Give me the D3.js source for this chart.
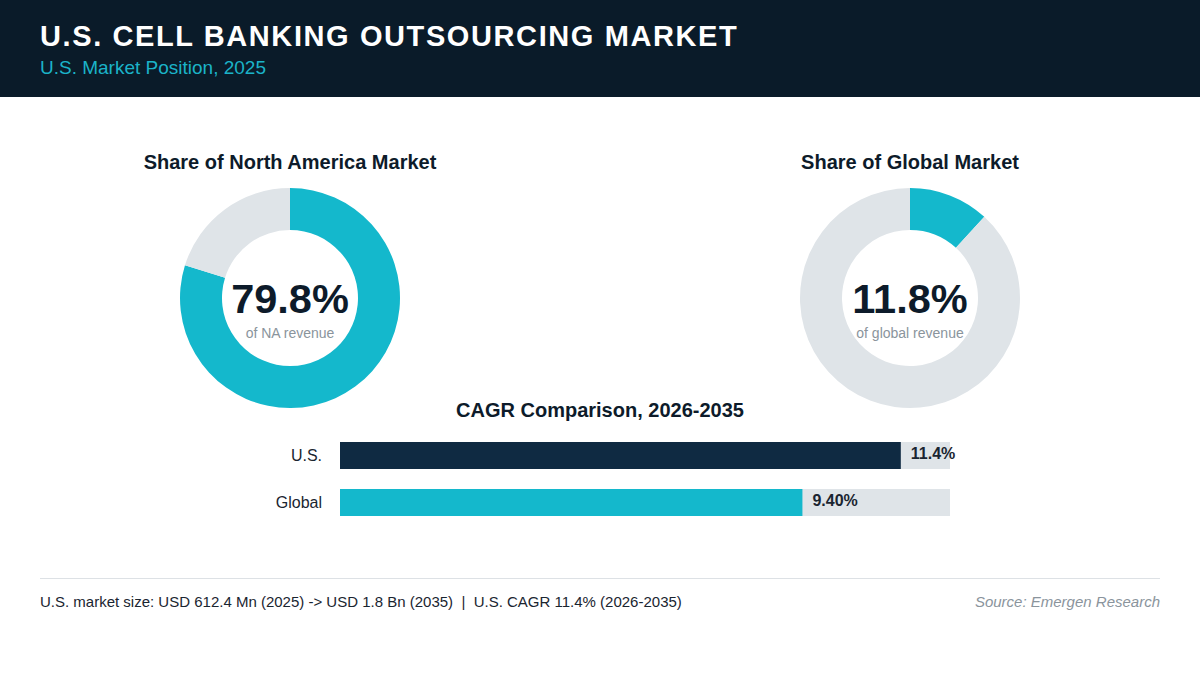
<!DOCTYPE html>
<html>
<head>
<meta charset="utf-8">
<script src="https://cdn.jsdelivr.net/npm/d3@7"></script>
<style>
  body { margin: 0; background: #fff; }
  svg { display: block; font-family: "Liberation Sans", Arial, sans-serif; }
</style>
</head>
<body>
<div id="chart"></div>
<script>
// values
const donutTitles = ['Share of North America Market', 'Share of Global Market'];
const donutShares = [79.8, 11.8];
const donutCaptions = ['of NA revenue', 'of global revenue'];

const barRegions = ['U.S.', 'Global'];
const barCagr = [11.4, 9.4];
const barLabels = ['11.4%', '9.40%'];

const teal = '#14b8cc';
const track = '#dfe4e8';
const navy = '#0f2a42';

const width = 1200, height = 675;

const svg = d3.select('#chart').append('svg')
    .attr('width', width)
    .attr('height', height);

// header
svg.append('rect')
    .attr('width', width)
    .attr('height', 97)
    .attr('fill', '#0a1b29');

svg.append('text')
    .attr('x', 40).attr('y', 46)
    .attr('fill', '#fff')
    .attr('font-size', 29)
    .attr('font-weight', 'bold')
    .attr('letter-spacing', 1.6)
    .text('U.S. CELL BANKING OUTSOURCING MARKET');

svg.append('text')
    .attr('x', 40).attr('y', 74)
    .attr('fill', '#1bb3c8')
    .attr('font-size', 19)
    .text('U.S. Market Position, 2025');

// donuts
const centers = d3.scalePoint().domain(d3.range(donutShares.length)).range([290, 910]);
const arc = d3.arc().innerRadius(68).outerRadius(110);
const pie = d3.pie().sort(null).value(d => d.v);

donutShares.forEach((share, i) => {
  const g = svg.append('g').attr('transform', `translate(${centers(i)},298)`);

  g.append('text')
      .attr('y', -129)
      .attr('text-anchor', 'middle')
      .attr('fill', '#0d1b2a')
      .attr('font-size', 20)
      .attr('font-weight', 'bold')
      .text(donutTitles[i]);

  g.selectAll('path')
    .data(pie([{ v: share, c: teal }, { v: 100 - share, c: track }]))
    .join('path')
      .attr('d', arc)
      .attr('fill', d => d.data.c);

  g.append('text')
      .attr('y', 15)
      .attr('text-anchor', 'middle')
      .attr('fill', '#0d1b2a')
      .attr('font-size', 41.5)
      .attr('font-weight', 'bold')
      .text(share.toFixed(1) + '%');

  g.append('text')
      .attr('y', 40)
      .attr('text-anchor', 'middle')
      .attr('fill', '#8a949c')
      .attr('font-size', 14)
      .text(donutCaptions[i]);
});

// CAGR bars
svg.append('text')
    .attr('x', 600).attr('y', 417)
    .attr('text-anchor', 'middle')
    .attr('fill', '#0d1b2a')
    .attr('font-size', 20)
    .attr('font-weight', 'bold')
    .text('CAGR Comparison, 2026-2035');

const x = d3.scaleLinear().domain([0, 12.4]).range([340, 950]);
const y = d3.scaleBand().domain(barRegions).range([442, 516]).paddingInner(0.4255).paddingOuter(0);

const rows = svg.append('g')
  .selectAll('g')
  .data(barRegions)
  .join('g')
    .attr('transform', d => `translate(0,${y(d)})`);

rows.append('rect')
    .attr('x', x(0))
    .attr('width', x.range()[1] - x(0))
    .attr('height', y.bandwidth())
    .attr('fill', track);

rows.append('rect')
    .attr('x', x(0))
    .attr('width', (d, i) => x(barCagr[i]) - x(0))
    .attr('height', y.bandwidth())
    .attr('fill', (d, i) => i === 0 ? navy : teal);

rows.append('text')
    .attr('x', 322)
    .attr('y', y.bandwidth() / 2)
    .attr('dy', '0.35em')
    .attr('text-anchor', 'end')
    .attr('fill', '#1a2530')
    .attr('font-size', 16)
    .text(d => d);

rows.append('text')
    .attr('x', (d, i) => x(barCagr[i]) + 10)
    .attr('y', y.bandwidth() / 2 - 2)
    .attr('dy', '0.35em')
    .attr('fill', '#1a2530')
    .attr('font-size', 16)
    .attr('font-weight', 'bold')
    .text((d, i) => barLabels[i]);

// footer
svg.append('line')
    .attr('x1', 40).attr('x2', 1160)
    .attr('y1', 578.5).attr('y2', 578.5)
    .attr('stroke', '#dde1e5');

svg.append('text')
    .attr('x', 40).attr('y', 607)
    .attr('fill', '#1a2530')
    .attr('font-size', 15)
    .attr('xml:space', 'preserve')
    .text('U.S. market size: USD 612.4 Mn (2025) -> USD 1.8 Bn (2035)  |  U.S. CAGR 11.4% (2026-2035)');

svg.append('text')
    .attr('x', 1160).attr('y', 607)
    .attr('text-anchor', 'end')
    .attr('fill', '#8a949c')
    .attr('font-size', 15)
    .attr('font-style', 'italic')
    .text('Source: Emergen Research');
</script>
</body>
</html>
